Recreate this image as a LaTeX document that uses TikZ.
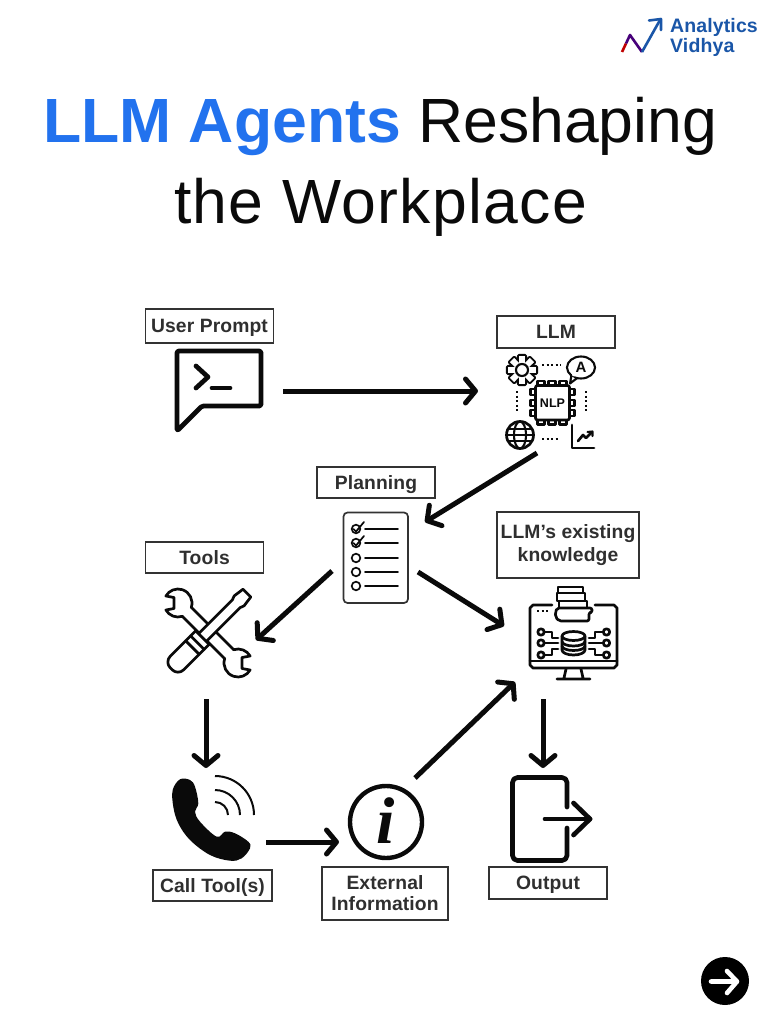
\documentclass[tikz,border=0pt]{standalone}
\usepackage{fontspec}
\usetikzlibrary{arrows.meta,calc}
\setmainfont{Liberation Sans}
\newfontfamily\lblfont[LetterSpace=0.6]{Liberation Sans Bold}
\newfontfamily\ifont[BoldItalicFont={Liberation Serif Bold Italic}]{Liberation Serif}
\newfontfamily\titletwo[LetterSpace=2.1]{Liberation Sans}
\definecolor{titleblue}{HTML}{2272EE}
\definecolor{logoblue}{HTML}{1A56A8}
\definecolor{ink}{HTML}{0A0A0A}
\definecolor{edge}{HTML}{333333}
\tikzset{
  lbl/.style={draw=edge,line width=1.5pt,inner sep=0pt,align=center,text=ink!85!white,font=\lblfont\fontsize{19.3}{20.5}\selectfont},
  oneline/.style={text height=13.8pt,text depth=0pt},
  iconbox/.style={inner sep=0pt,outer sep=0pt,draw=none},
  conn/.style={draw=ink,line width=5pt,-{Straight Barb[length=10pt,width=24pt,round]}},
  heavy/.style={draw=ink,line width=4.7pt,line join=round,line cap=round},
  mid/.style={draw=ink,line width=2.7pt,line join=round,line cap=round},
  thin/.style={draw=ink,line width=2.1pt,line join=round,line cap=round},
  dots/.style={draw=ink,line width=2.2pt,dash pattern=on 2pt off 2.5pt},
}
\begin{document}
\begin{tikzpicture}[x=1pt,y=-1pt]
\useasboundingbox (0,0) rectangle (768,1024);
\fill[white] (0,0) rectangle (768,1024);

% title
\node[anchor=base west,inner sep=0pt,font=\fontsize{62.5}{70}\selectfont,text=ink] (title1) at (43,143) {\textcolor{titleblue}{\textbf{LLM Agents}} Reshaping};
\node[anchor=base west,inner sep=0pt,font=\titletwo\fontsize{62.5}{70}\selectfont,text=ink] (title2) at (174,224) {the Workplace};

% logo
\draw[line width=2.6pt,line join=round,color=red!75!black] (622,52) -- (626,43.5);
\draw[line width=2.6pt,line join=round,color=violet!70!black!80!blue] (626,43.5) -- (630,35) -- (642,52);
\draw[line width=2.6pt,line join=round,color=logoblue] (642,52) -- (660,20);
\draw[line width=2.6pt,line join=round,line cap=round,color=logoblue] (649,20.5) -- (661,19) -- (661,30);
\node[anchor=base west,inner sep=0pt,text=logoblue,font=\lblfont\fontsize{19.5}{22}\selectfont] (logo1) at (670,33) {Analytics};
\node[anchor=base west,inner sep=0pt,text=logoblue,font=\lblfont\fontsize{19.5}{22}\selectfont] (logo2) at (670,53) {Vidhya};

% labels
\node[lbl,oneline,minimum width=128pt,minimum height=34pt] (lprompt) at (209.5,326) {User Prompt};
\node[lbl,oneline,minimum width=118pt,minimum height=32pt] (lllm) at (556,332) {LLM};
\node[lbl,oneline,minimum width=118pt,minimum height=31pt] (lplan) at (376,482.5) {Planning};
\node[lbl,oneline,minimum width=118pt,minimum height=31pt] (ltools) at (204.5,557.5) {Tools};
\node[lbl,minimum width=142pt,minimum height=66pt] (lknow) at (568,545) {\raisebox{-4pt}{\shortstack[c]{LLM’s existing\\[1.5pt]knowledge}}};
\node[lbl,oneline,minimum width=119pt,minimum height=31pt] (lcall) at (212.5,885.5) {Call Tool(s)};
\node[lbl,minimum width=126pt,minimum height=53pt] (lext) at (385,893.5) {\raisebox{-3pt}{\shortstack[c]{External\\[4pt]Information}}};
\node[lbl,oneline,minimum width=118pt,minimum height=32pt] (lout) at (548,883) {Output};

% icon footprints
\node[iconbox,minimum width=88pt,minimum height=84pt] (prompt) at (218,390) {};
\node[iconbox,minimum width=90pt,minimum height=100pt] (llm) at (550,398) {};
\node[iconbox,minimum width=65pt,minimum height=91pt] (plan) at (375.5,557.5) {};
\node[iconbox,minimum width=88pt,minimum height=92pt] (tools) at (208,632) {};
\node[iconbox,minimum width=88pt,minimum height=95pt] (know) at (573,633) {};
\node[iconbox,minimum width=80pt,minimum height=82pt] (phone) at (211,820) {};
\node[iconbox,minimum width=76pt,minimum height=76pt] (info) at (386,822) {};
\node[iconbox,minimum width=80pt,minimum height=84pt] (output) at (551,819) {};

% prompt icon
\draw[heavy,rounded corners=1.5pt] (177,351) -- (261,351) -- (261,406) -- (202,406) -- (177,431) -- cycle;
\draw[heavy] (196,366) -- (208,377) -- (196,388);
\draw[heavy] (212,388) -- (230,388);

% LLM icon
\begin{scope}[shift={(522,370)}]
  \foreach \a in {0,45,...,315} \draw[thin,rotate=\a,rounded corners=1pt] (8,-4) rectangle (15,4);
  \draw[thin] (0,0) circle[radius=11];
  \foreach \a in {0,45,...,315} \fill[white,rotate=\a] (7,-2.9) rectangle (14,2.9);
  \draw[thin] (0,0) circle[radius=6];
\end{scope}
\draw[dots] (542,365) -- (561,365);
\draw[thin,fill=white] (581,367.5) ellipse[x radius=14,y radius=11];
\draw[thin,fill=white] (570,383.5) -- (571.5,375) -- (577,378.2) -- cycle;
\fill[white] (571.8,373) -- (578,373) -- (577.5,376.8) -- (572.4,376) -- cycle;
\node[inner sep=0pt,text=ink,font=\lblfont\fontsize{15}{15}\selectfont] (glyphA) at (581,367.5) {A};
\foreach \p in {541,552,563} {
  \draw[thin,fill=white] (\p-3.5,381) rectangle (\p+3.5,386);
  \draw[thin,fill=white] (\p-3.5,419) rectangle (\p+3.5,424.5);
}
\foreach \p in {392,403,413} {
  \draw[thin,fill=white] (530.5,\p-3) rectangle (536,\p+3);
  \draw[thin,fill=white] (569,\p-3) rectangle (574.5,\p+3);
}
\draw[mid,fill=white,rounded corners=2pt] (535.5,385.5) rectangle (569.5,420);
\node[inner sep=0pt,text=ink,font=\lblfont\fontsize{12.5}{12}\selectfont] (glyphNLP) at (552.5,403) {NLP};
\draw[dots] (517,391) -- (517,413);
\draw[dots] (586,391) -- (586,413);
\begin{scope}[shift={(520,435)}]
  \draw[mid] (0,0) circle[radius=13.5];
  \draw[thin] (0,0) ellipse[x radius=6,y radius=13.5];
  \draw[thin] (-13.5,0) -- (13.5,0) (-12,-6) -- (12,-6) (-12,6) -- (12,6);
\end{scope}
\draw[dots] (542,439) -- (559,439);
\draw[mid] (572,425) -- (572,448) -- (594,448);
\draw[mid] (578,441) -- (583,435) -- (586,438) -- (592,432);
\draw[thin] (587.5,432) -- (592.5,431.5) -- (592.5,436);

% planning icon
\draw[thin,line width=1.7pt,fill=white,rounded corners=4pt,draw=edge] (343.5,512.5) rectangle (408,603);
\foreach \y in {529,543,558,572,586} {
  \draw[thin,line width=1.7pt] (356,\y) circle[radius=4.3];
  \draw[thin,line width=1.7pt] (365,\y) -- (398,\y);
}
\foreach \y in {529,543} \draw[thin,line width=1.7pt] (353.5,\y) -- (356,\y+2.5) -- (364,\y-7);

% tools icon: wrench
\draw[mid] (191,607) -- (234,650) (182,616) -- (225,659);
\begin{scope}[shift={(178,603)},y=1pt]
  \draw[mid] (-18:14) arc[start angle=-18,end angle=150,radius=14] -- (-4,5.5) -- (-4,-5.5) -- (210:14) arc[start angle=210,end angle=288,radius=14];
\end{scope}
\begin{scope}[shift={(238,663)},y=1pt]
  \draw[mid] (162:14) arc[start angle=162,end angle=330,radius=14] -- (4,-5.5) -- (4,5.5) -- (30:14) arc[start angle=30,end angle=108,radius=14];
\end{scope}
% tools icon: screwdriver
\begin{scope}[shift={(208,632)},rotate=45]
  \draw[mid,fill=white] (-8,-5.5) -- (40,-5.5) -- (44,-7) -- (55,-5.5) -- (55,5.5) -- (44,7) -- (40,5.5) -- (-8,5.5) -- cycle;
  \draw[mid,fill=white,rounded corners=8pt] (-8,-9.5) -- (-52,-9.5) -- (-52,9.5) -- (-8,9.5);
  \draw[mid] (-8,-9.5) -- (-8,9.5) (-15,-9.5) -- (-15,9.5) (-22,-9.5) -- (-22,9.5);
\end{scope}

% phone icon
\fill[ink] plot[smooth cycle,tension=0.6] coordinates {(172.7,790) (180,779.3) (190,780) (195,786.7) (198.3,803.3) (195,811.7) (200,821.7) (216.7,836.7) (225,831.7) (235,833.3) (248.3,841.7) (250,848.3) (241.7,858.3) (230,860.7) (210,855) (190,840) (178.3,823.3) (173.3,806.7)};
\begin{scope}[shift={(215,815)},y=1pt]
  \foreach \r in {13,25,39} \draw[line width=2pt,color=ink] (0,\r) arc[start angle=90,end angle=0,radius=\r];
\end{scope}

% info icon
\draw[draw=ink,line width=4.4pt] (386,822) circle[radius=36];
\node[inner sep=0pt,text=ink,font=\ifont\bfseries\itshape\fontsize{66}{66}\selectfont] (glyphi) at (386,821) {i};

% knowledge icon
\draw[mid] (552,605) -- (533,605) -- (530,608) -- (530,665) -- (533,668) -- (614,668) -- (617,665) -- (617,608) -- (614,605) -- (595,605);
\draw[mid] (530,661) -- (617,661);
\draw[mid] (566,669) -- (564,678) (581,669) -- (583,678) (557,679) -- (590,679);
\draw[dots] (537,611) -- (548,611);
\draw[mid,fill=white] (558,587) rectangle (583,593);
\draw[mid,fill=white] (557,593) rectangle (585,601);
\draw[mid,fill=white] (559,601) rectangle (587,608);
\draw[mid,fill=white,rounded corners=2pt] (592,608) -- (557,608) -- (555.5,612) -- (555.5,617) -- (559,621) -- (589,621) -- (589,612.5) -- (592,612.5) -- cycle;
\begin{scope}[shift={(573.5,636)}]
  \draw[mid,fill=white] (-11.5,0) -- (-11.5,14) arc[start angle=180,end angle=360,x radius=11.5,y radius=-5] -- (11.5,0);
  \draw[mid,fill=white] (0,0) ellipse[x radius=11.5,y radius=4.5];
  \draw[mid] (-11.5,5.5) arc[start angle=180,end angle=360,x radius=11.5,y radius=-4.5];
  \draw[mid] (-11.5,10) arc[start angle=180,end angle=360,x radius=11.5,y radius=-4.5];
\end{scope}
\foreach \y in {632,643,655} {
  \draw[mid] (541,\y) circle[radius=3.2];
  \draw[mid] (606.5,\y) circle[radius=3.2];
}
\draw[mid] (544,632) -- (552,632) -- (552,638) -- (558,638);
\draw[mid] (544,643) -- (558,643);
\draw[mid] (544,655) -- (552,655) -- (552,649) -- (558,649);
\draw[mid] (603.5,632) -- (595,632) -- (595,638) -- (589,638);
\draw[mid] (603.5,643) -- (589,643);
\draw[mid] (603.5,655) -- (595,655) -- (595,649) -- (589,649);

% output icon
\draw[heavy,rounded corners=5pt] (567,807) -- (567,777.5) -- (512.5,777.5) -- (512.5,860.5) -- (567,860.5) -- (567,828);
\draw[heavy] (545,819) -- (590,819);
\draw[heavy] (573.5,803) -- (590,819) -- (573.5,835);

% connectors
\draw[conn] ([shift={(65,1)}]prompt.center) -- ([shift={(-72,-7)}]llm.center);
\draw[conn] ([shift={(-13,55)}]llm.center) -- ([shift={(49.5,-35.5)}]plan.center);
\draw[conn] ([shift={(-43.5,13.5)}]plan.center) -- ([shift={(48,8)}]tools.center);
\draw[conn] ([shift={(42.5,14.5)}]plan.center) -- ([shift={(-69,-7)}]know.center);
\draw[conn] ([shift={(-2,67)}]tools.center) -- ([shift={(-5,-52)}]phone.center);
\draw[conn] ([shift={(55,22)}]phone.center) -- ([shift={(-47,20)}]info.center);
\draw[conn] ([shift={(29,-44)}]info.center) -- ([shift={(-58,49)}]know.center);
\draw[conn] ([shift={(-30,66)}]know.center) -- ([shift={(-8,-51)}]output.center);

% next button
\node[circle,fill=black,inner sep=0pt,minimum size=48pt] (next) at (725,981) {};
\draw[white,line width=4.6pt,line cap=round,line join=round] (711,981.5) -- (736,981.5) (727,971) -- (737,981.5) -- (727,993);
\end{tikzpicture}
\end{document}
